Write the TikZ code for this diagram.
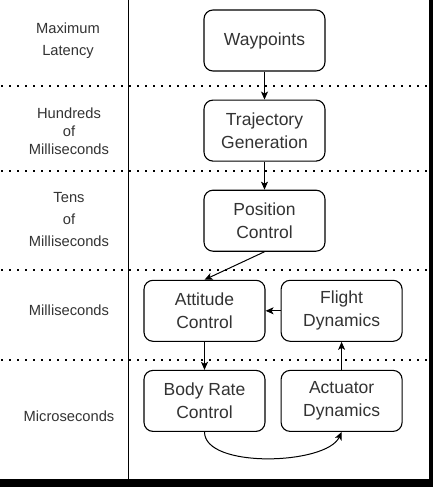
\documentclass[tikz,border=0pt]{standalone}
\usepackage{fontspec}
\setmainfont{Liberation Sans}
\usetikzlibrary{arrows.meta,positioning}

\begin{document}
\begin{tikzpicture}[x=1pt,y=-1pt,
node distance=28pt and 15pt,
blk/.style={draw,rounded corners=9pt,align=center,line width=1.1pt,
minimum width=121pt,minimum height=61pt,inner sep=0pt,
font=\fontsize{17.5}{23}\selectfont,text=black!80},
lane/.style={align=center,font=\fontsize{14.7}{22}\selectfont,text=black!80},
sep/.style={line width=1.6pt,dash pattern=on 1.6pt off 6.4pt},
arr/.style={-{Stealth[length=8pt,width=7pt,inset=2pt]},line width=1pt}
]
\fill[black] (0,0) rectangle (433,487);
\fill[white] (0,0) rectangle (429,479);
\useasboundingbox (0,0) rectangle (433,487);

\draw[line width=1.2pt] (128.5,0) -- (128.5,479);
\foreach \y in {86,171,270,360}
  \draw[sep] (1,\y) -- (429,\y);

\node[lane] (lmax) at (68,41) {Maximum\\Latency};
\node[lane,font=\fontsize{14.7}{18}\selectfont] (lhun) at (69,131) {Hundreds\\of\\Milliseconds};
\node[lane] (lten) at (69,220) {Tens\\of\\Milliseconds};
\node[lane] (lms) at (69,310) {Milliseconds};
\node[lane] (lus) at (69,416) {Microseconds};

\node[blk] (wp) at (264.5,40.5) {Waypoints};
\node[blk,below=of wp] (traj) {Trajectory\\Generation};
\node[blk,below=of traj] (pos) {Position\\Control};
\node[blk,below=of pos,xshift=-60pt] (att) {Attitude\\Control};
\node[blk,right=of att] (fly) {Flight\\Dynamics};
\node[blk,below=of att] (rate) {Body Rate\\Control};
\node[blk,right=of rate] (act) {Actuator\\Dynamics};

\draw[arr] (wp) -- (traj);
\draw[arr] (traj) -- (pos);
\draw[arr] (pos.south) -- (att.north);
\draw[arr] (fly) -- (att);
\draw[arr] (att) -- (rate);
\draw[arr] (act) -- (fly);
\draw[arr] (rate.south) .. controls +(0,37) and +(-15,33) .. (act.south);
\end{tikzpicture}
\end{document}
